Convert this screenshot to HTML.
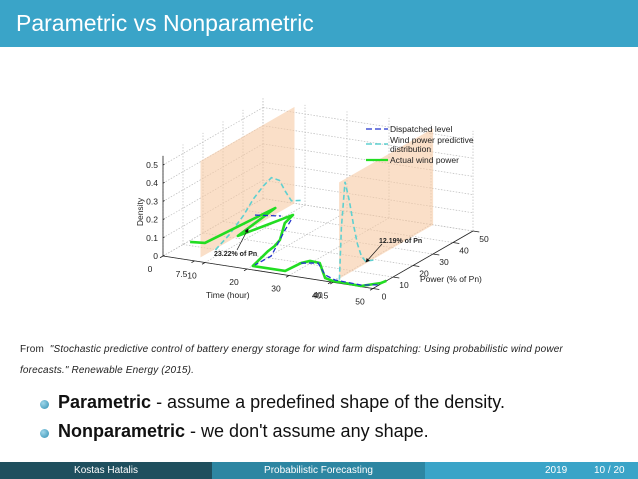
<!DOCTYPE html>
<html><head><meta charset="utf-8">
<style>
body{margin:0;width:638px;height:479px;overflow:hidden;background:#fff;font-family:"Liberation Sans",sans-serif;position:relative}
#hdr{position:absolute;left:0;top:0;width:638px;height:47px;background:#3aa4c8}
#title{position:absolute;left:16px;top:10px;font-size:23px;color:#fff}
#chart{position:absolute;left:0;top:0}
.cite{position:absolute;left:20px;font-size:10px;letter-spacing:0.15px;color:#222}
.cite i{font-style:italic}
.bul{position:absolute;left:40px;font-size:18px;color:#111}
.dot{position:absolute;left:40px;width:9px;height:9px;border-radius:50%;background:radial-gradient(circle at 35% 35%,#9fd6ea,#2f8fb2)}
#ftr{position:absolute;left:0;top:462px;width:638px;height:17px;font-size:10px;color:#fff}
#ftr div{position:absolute;top:0;height:17px;line-height:17px}
</style></head><body>
<div id="hdr"><div id="title">Parametric vs Nonparametric</div></div>

<svg id="chart" width="638" height="330"></svg>

<div class="cite" style="top:344px">From &nbsp;<i>"Stochastic predictive control of battery energy storage for wind farm dispatching: Using probabilistic wind power</i></div>
<div class="cite" style="top:365px"><i>forecasts." Renewable Energy (2015).</i></div>

<div class="dot" style="top:400px"></div>
<div class="bul" style="left:58px;top:392px"><b>Parametric</b> - assume a predefined shape of the density.</div>
<div class="dot" style="top:429px"></div>
<div class="bul" style="left:58px;top:421px"><b>Nonparametric</b> - we don't assume any shape.</div>

<div id="ftr">
<div style="left:0;width:212px;background:#1f4f5e;text-align:center">Kostas Hatalis</div>
<div style="left:212px;width:213px;background:#2d86a2;text-align:center">Probabilistic Forecasting</div>
<div style="left:425px;width:213px;background:#3aa4c8"><span style="position:absolute;left:120px">2019</span><span style="position:absolute;left:169px">10 / 20</span></div>
</div>

<script>
// data
const timeTicks=[0,7.5,10,20,30,40,40.5,50];
const powerTicks=[0,10,20,30,40,50];
const densTicks=[0,0.1,0.2,0.3,0.4,0.5];
const actualT=[0.5,3.6,5.4,7.5,11.0,12.1,16.7,17.7,18.1,20.1,27.8,28.2,29.2,31.7,37.6,40.0,43.0,46.9,49.7,50];
const actualP=[12.5,13.4,44.8,21.7,41.9,35.5,23.4,18.7,14.6,2.7,2.7,9.8,12.2,11.8,2.1,0.9,0.8,0.4,4.6,6.7];
const dispT1=[3.9,9.1];const dispP1=[37.8,39.9];
const dispT2=[12.3,14.4,20.3,20.2];const dispP2=[38.2,30.8,11.5,3.6];
const dispT3=[28.2,31.4,36.6,40.1,46.6,50];const dispP3=[9.8,11.6,4.2,1.8,1.1,3.2];
const distTL=12;
const distPL=[1,8,15,20,25,29,33,36,39,44];
const distDL=[0.07,0.11,0.17,0.23,0.27,0.29,0.25,0.17,0.10,0.07];
const distTR=42;
const distPR=[0,1,2.8,5,7,9,11,13,17];
const distDR=[0.02,0.3,0.54,0.42,0.28,0.16,0.08,0.04,0.02];
const panelT=[7.5,40.5];

const svg=document.getElementById('chart');
const NS='http://www.w3.org/2000/svg';
function X(t,p,d){return 163+4.2*t+2.0*p;}
function Y(t,p,d){return 256+0.65*t-1.15*p-182*d;}
function el(tag,attrs,parent){const e=document.createElementNS(NS,tag);for(const k in attrs)e.setAttribute(k,attrs[k]);(parent||svg).appendChild(e);return e;}
function line(t1,p1,d1,t2,p2,d2,st){return el('line',Object.assign({x1:X(t1,p1,d1),y1:Y(t1,p1,d1),x2:X(t2,p2,d2),y2:Y(t2,p2,d2)},st));}
const grid={stroke:'#bbb','stroke-width':0.7,'stroke-dasharray':'1.5,1.5'};
const DT=0.55;
const g=el('g',{});


[0,10,20,30,40,50].forEach(t=>{el('line',{x1:X(t,50,0),y1:Y(t,50,0),x2:X(t,50,DT),y2:Y(t,50,DT),...grid},g);el('line',{x1:X(t,0,0),y1:Y(t,0,0),x2:X(t,50,0),y2:Y(t,50,0),...grid},g);});
powerTicks.forEach(p=>{el('line',{x1:X(0,p,0),y1:Y(0,p,0),x2:X(0,p,DT),y2:Y(0,p,DT),...grid},g);el('line',{x1:X(0,p,0),y1:Y(0,p,0),x2:X(50,p,0),y2:Y(50,p,0),...grid},g);});
densTicks.forEach(d=>{el('line',{x1:X(0,0,d),y1:Y(0,0,d),x2:X(0,50,d),y2:Y(0,50,d),...grid},g);el('line',{x1:X(0,50,d),y1:Y(0,50,d),x2:X(50,50,d),y2:Y(50,50,d),...grid},g);});
panelT.forEach((t,i)=>{
 const pts=[[t,3,0],[t,3,0.53],[t,50,0.53],[t,50,0]].map(a=>X(...a)+','+Y(...a)).join(' ');
 const pg=el('polygon',{points:pts,fill:'#f7c9a3','fill-opacity':0.6});
 
 
});
const ax={stroke:'#222','stroke-width':0.8};
line(0,0,0,0,0,DT,ax);line(0,0,0,50,0,0,ax);line(50,0,0,50,50,0,ax);
function txt(x,y,s,st){const e=el('text',Object.assign({x:x,y:y,'font-size':8.5,fill:'#222','font-family':'Liberation Sans, sans-serif'},st||{}));e.textContent=s;return e;}
densTicks.forEach(d=>{line(0,0,d,0,0.8,d,ax);const e=txt(X(0,0,d)-5,Y(0,0,d)+3,String(d),{'text-anchor':'end'});});
timeTicks.forEach(t=>{line(t,0,0,t,-1.5,0,ax);const e=txt(X(t,0,0)-13,Y(t,0,0)+16,String(t),{'text-anchor':'middle'});});
powerTicks.forEach(p=>{line(50,p,0,51.5,p,0,ax);const e=txt(X(50,p,0)+11,Y(50,p,0)+11,String(p),{'text-anchor':'middle'});});
let e=txt(143,212,'Density',{transform:'rotate(-90 143 212)','text-anchor':'middle'});

e=txt(206,298,'Time (hour)');

e=txt(420,282,'Power (% of Pn)');

function path(ts,ps,ds,st,name){const pts=ts.map((t,i)=>X(t,ps[i],ds?ds[i]:0)+','+Y(t,ps[i],ds?ds[i]:0)).join(' ');const e=el('polyline',Object.assign({points:pts,fill:'none'},st));return e;}
const cy={stroke:'#5fd0d0','stroke-width':1.6,'stroke-dasharray':'5,3'};
path(distPL.map(()=>distTL),distPL,distDL,cy,'predictive-distribution-left');
path(distPR.map(()=>distTR),distPR,distDR,cy,'predictive-distribution-right');
path(actualT,actualP,null,{stroke:'#22dd22','stroke-width':2.6,'stroke-linejoin':'round'},'actual-wind-power-line');
const bl={stroke:'#2233cc','stroke-width':1.3,'stroke-dasharray':'5,3'};
path(dispT1,dispP1,null,bl,'dispatched-level-1');
path(dispT2,dispP2,null,bl,'dispatched-level-2');
path(dispT3,dispP3,null,bl,'dispatched-level-3');
el('defs',{}).innerHTML='<marker id="ah" markerWidth="6" markerHeight="6" refX="5" refY="3" orient="auto"><path d="M0,0L6,3L0,6z" fill="#111"/></marker>';
el('line',{x1:237,y1:250,x2:248,y2:229,stroke:'#111','stroke-width':0.7,'marker-end':'url(#ah)'});
el('line',{x1:382,y1:244,x2:366,y2:262,stroke:'#111','stroke-width':0.7,'marker-end':'url(#ah)'});
e=txt(214,256,'23.22% of Pn',{'font-size':7,'font-weight':'bold'});

e=txt(379,243,'12.19% of Pn',{'font-size':7,'font-weight':'bold'});

const lg=el('g',{});


el('line',{x1:366,y1:129,x2:388,y2:129,stroke:'#2233cc','stroke-width':1.3,'stroke-dasharray':'6,3'},lg);
el('line',{x1:366,y1:144,x2:388,y2:144,stroke:'#5fd0d0','stroke-width':1.6,'stroke-dasharray':'6,3'},lg);
el('line',{x1:366,y1:160,x2:388,y2:160,stroke:'#22dd22','stroke-width':2.2},lg);
[['Dispatched level',132],['Wind power predictive',143],['distribution',152],['Actual wind power',163]].forEach(a=>{const t=txt(390,a[1],a[0],{'font-size':8.5});lg.appendChild(t);});
</script>
</body></html>
